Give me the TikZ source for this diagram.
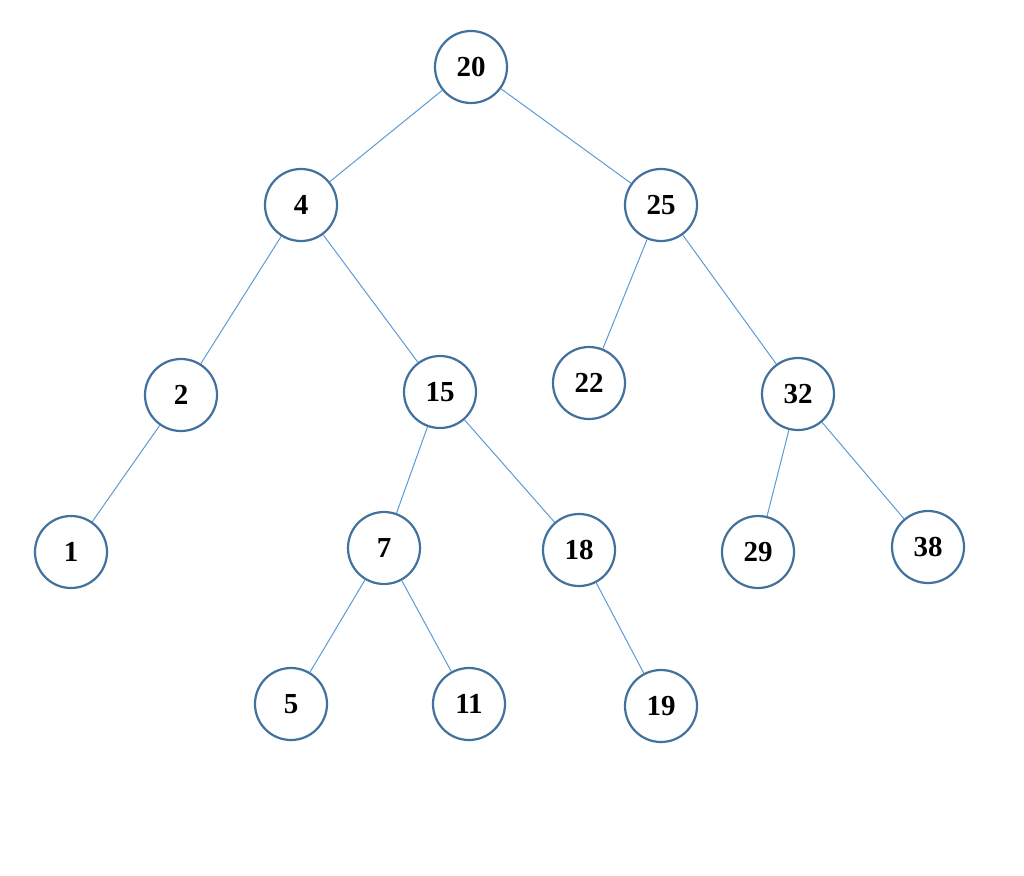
\documentclass[tikz,border=0pt]{standalone}
\usepackage{fontspec}
\setmainfont{Liberation Serif}
\begin{document}
\begin{tikzpicture}[x=1pt,y=-1pt,
  nd/.style={circle,draw=circ,line width=2.2pt,minimum size=72pt,inner sep=0pt,font=\fontsize{29}{30}\selectfont\bfseries},
  ed/.style={draw=edge,line width=1pt}]
\definecolor{circ}{HTML}{41719C}
\definecolor{edge}{HTML}{5B9BD5}
\useasboundingbox (0,0) rectangle (1024,875);
\node[nd] (n20) at (471,67) {20};
\node[nd] (n4) at (301,205) {4};
\node[nd] (n25) at (661,205) {25};
\node[nd] (n2) at (181,395) {2};
\node[nd] (n15) at (440,392) {15};
\node[nd] (n22) at (589,383) {22};
\node[nd] (n32) at (798,394) {32};
\node[nd] (n1) at (71,552) {1};
\node[nd] (n7) at (384,548) {7};
\node[nd] (n18) at (579,550) {18};
\node[nd] (n29) at (758,552) {29};
\node[nd] (n38) at (928,547) {38};
\node[nd] (n5) at (291,704) {5};
\node[nd] (n11) at (469,704) {11};
\node[nd] (n19) at (661,706) {19};
\foreach \a/\b in {n20/n4,n20/n25,n4/n2,n4/n15,n25/n22,n25/n32,n2/n1,n15/n7,n15/n18,n32/n29,n32/n38,n7/n5,n7/n11,n18/n19}
  \draw[ed] (\a) -- (\b);
\end{tikzpicture}
\end{document}
